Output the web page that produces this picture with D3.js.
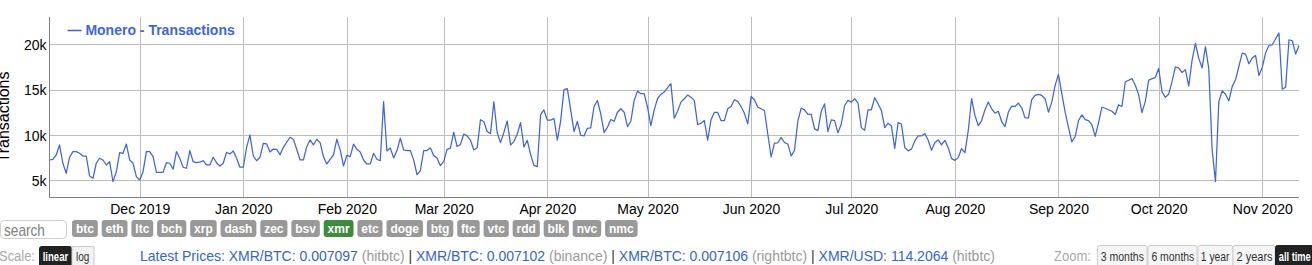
<!DOCTYPE html>
<html><head><meta charset="utf-8">
<script src="https://cdn.jsdelivr.net/npm/d3@7"></script>
<style>
html,body{margin:0;padding:0;background:#fff;overflow:hidden;width:1312px;height:265px;}
svg{display:block;font-family:"Liberation Sans",Arial,Helvetica,sans-serif;}
</style></head><body>
<svg id="c" width="1312" height="265"></svg>
<script>
// ---------- data ----------
const seriesName = "Monero - Transactions";
const yAxisTitle = "Transactions";
const startDay = "2019-11-04";
const transactions = [
7240,7320,7790,8900,6880,5770,7540,8160,8160,7980,7680,7680,5470,5220,6880,7430,7240,6690,7050,4850,
5950,8050,7980,9000,7240,6880,5400,5030,5950,8160,8160,7610,5880,5880,5880,6940,6880,6220,8160,7430,
6440,6330,8270,7050,
6940,7000,7160,6690,6690,7540,6940,6580,6880,8090,7900,8230,7430,6440,6440,8640,10000,7680,7160,7540,
9080,9010,8120,8450,8420,7830,8640,9200,9750,9530,8420,7240,7240,8710,9450,8900,9530,9150,7610,6800,
7320,7790,9530,8350,6580,7760,7610,8980,8420,8120,7240,6800,6800,7980,7320,7160,13680,8230,
8580,7470,8280,9640,8350,8280,8280,7250,5620,6070,8280,8280,8580,7720,7470,6610,7090,8420,8540,10280,
8730,8950,10100,9900,9430,8350,8580,11680,11490,10380,10150,13670,10270,9160,10270,11560,8900,9270,10080,11370,
8680,9420,7870,6650,6500,12240,12760,11640,11640,11820,9420,11560,15000,15110,12760,10380,11490,9970,9900,
10730,10780,13140,13800,12330,10290,10840,11700,11510,12510,12890,12510,10920,11510,13810,14840,14550,14550,13060,11030,
12770,14000,14470,14730,15220,15660,11840,12620,13620,14000,14400,14170,13810,11140,11290,11590,9440,11670,12480,12480,
11590,11590,12890,13140,13890,13700,13140,12400,11220,14250,13890,13060,12890,12700,
10100,7580,9100,9140,9730,9170,8990,7690,8320,11560,12950,12780,12260,12260,10670,10480,12620,13440,10370,11660,
11590,10230,11220,13250,13810,13620,14000,13510,10810,10520,12780,12780,14110,13440,12700,10810,11300,11000,8510,11370,
11190,8620,8250,8440,9340,9890,9890,10150,9410,8320,9160,9450,8900,9410,
8600,7420,7200,7500,8500,8050,10470,14000,12150,11030,11590,12780,13630,12890,12400,12620,11480,10920,12510,13180,
13140,13510,13000,11890,11890,13890,14360,14470,14360,14000,12510,13620,15470,16690,14550,12510,10840,9250,9810,11590,
12220,11700,11590,11140,9840,11370,13060,12950,12780,12620,12260,13330,13140,
15840,16040,16220,15480,14450,12460,13700,16040,16220,16330,17330,14770,14140,14520,15880,17510,17400,16880,17200,15400,
18260,20110,18450,17410,19740,17290,8360,4850,13680,14860,14490,13750,15330,16080,17550,19030,18920,17850,18480,18770,
16560,17450,19030,19870,19950,20610,21240,15050,15270,20500,20390,18920,19870
];
const yDomain = [3158, 23012];
const yTickValues = [5000, 10000, 15000, 20000];
const yTickLabels = ["5k", "10k", "15k", "20k"];
const monthTicks = ["2019-12-01","2020-01-01","2020-02-01","2020-03-01","2020-04-01","2020-05-01",
                    "2020-06-01","2020-07-01","2020-08-01","2020-09-01","2020-10-01","2020-11-01"];
const coinButtons = ["btc","eth","ltc","bch","xrp","dash","zec","bsv","xmr","etc","doge","btg","ftc","vtc","rdd","blk","nvc","nmc"];
const activeCoin = "xmr";
const scaleButtons = ["linear", "log"];
const zoomButtons = ["3 months", "6 months", "1 year", "2 years", "all time"];
const priceParts = [
  ["Latest Prices: XMR/BTC: 0.007097", "blue"], [" (hitbtc) ", "gray"], ["|", "dark"],
  [" XMR/BTC: 0.007102", "blue"], [" (binance) ", "gray"], ["|", "dark"],
  [" XMR/BTC: 0.007106", "blue"], [" (rightbtc) ", "gray"], ["|", "dark"],
  [" XMR/USD: 114.2064", "blue"], [" (hitbtc)", "gray"]
];

// ---------- styles ----------
const LINE = "#3e66d6";
const GRID = "#bdbdbd";
const AXIS = "#808080";
const partColor = {blue: "#3366cc", gray: "#999999", dark: "#333333"};

const svg = d3.select("#c");
const L = 49.5, R = 1299, T = 17, B = 197;
const parse = d3.timeParse("%Y-%m-%d");
const d0 = parse(startDay);
const data = transactions.map((v, i) => ({date: d3.timeDay.offset(d0, i), value: v}));

const x = d3.scaleTime().domain(d3.extent(data, d => d.date)).range([L, R]);
const y = d3.scaleLinear().domain(yDomain).range([B, T]);
const months = monthTicks.map(parse);

// grid
const grid = svg.append("g");
grid.selectAll("line.h").data(yTickValues).join("line")
  .attr("x1", L).attr("x2", R)
  .attr("y1", d => Math.round(y(d)) + 0.5).attr("y2", d => Math.round(y(d)) + 0.5)
  .attr("stroke", GRID).attr("stroke-width", 1);
grid.selectAll("line.v").data(months).join("line")
  .attr("x1", d => Math.round(x(d)) + 0.5).attr("x2", d => Math.round(x(d)) + 0.5)
  .attr("y1", T).attr("y2", B)
  .attr("stroke", GRID).attr("stroke-width", 1);

// clip + line
svg.append("clipPath").attr("id", "clip").append("rect")
  .attr("x", L).attr("y", T).attr("width", R - L + 2).attr("height", B - T);
svg.append("path").datum(data)
  .attr("clip-path", "url(#clip)")
  .attr("fill", "none").attr("stroke", LINE).attr("stroke-width", 1.25)
  .attr("stroke-linejoin", "round")
  .attr("d", d3.line().x(d => x(d.date)).y(d => y(d.value)));

// axes
const yAxis = svg.append("g").attr("transform", `translate(${L},0)`)
  .call(d3.axisLeft(y).tickValues(yTickValues).tickFormat((d, i) => yTickLabels[i]).tickSize(0).tickPadding(3));
yAxis.select(".domain").remove();
yAxis.selectAll("text").attr("font-size", 14).attr("font-family", "Liberation Sans, Arial, sans-serif")
  .attr("fill", "#000").attr("dy", "0.38em");

const xAxis = svg.append("g").attr("transform", `translate(0,${B})`)
  .call(d3.axisBottom(x).tickValues(months).tickFormat(d3.timeFormat("%b %Y")).tickSize(0).tickPadding(7));
xAxis.select(".domain").remove();
xAxis.selectAll("text").attr("font-size", 14).attr("font-family", "Liberation Sans, Arial, sans-serif").attr("fill", "#000");

svg.append("line").attr("x1", L).attr("x2", L).attr("y1", T).attr("y2", B + 0.5).attr("stroke", AXIS);
svg.append("line").attr("x1", L).attr("x2", R).attr("y1", B + 0.5).attr("y2", B + 0.5).attr("stroke", AXIS);

// y title
svg.append("text").attr("transform", "translate(8.5,117) rotate(-90)")
  .attr("text-anchor", "middle").attr("font-size", 16).attr("fill", "#000").text(yAxisTitle);

// legend
svg.append("text").attr("x", 67.5).attr("y", 35).attr("font-size", 14).attr("font-weight", "bold")
  .attr("fill", LINE).text("\u2014 " + seriesName);

// ---------- controls ----------
// condensed text: natural glyphs squeezed horizontally by a transform to a target width
function squeezed(parent, str, tx, ty, target, attrs) {
  const t = parent.append("text").attr("x", 0).attr("y", 0).text(str);
  Object.entries(attrs).forEach(([k, v]) => t.attr(k, v));
  const w = t.node().getComputedTextLength();
  const k = target / w;
  t.attr("transform", `translate(${tx},${ty}) scale(${k},1)`);
  return target;
}

// search box
svg.append("rect").attr("x", 0.5).attr("y", 220.5).attr("width", 66).attr("height", 18).attr("rx", 4)
  .attr("fill", "#fff").attr("stroke", "#cccccc");
squeezed(svg, "search", 4, 235.5, 41, {"font-size": 16, "fill": "#808080"});

// coin buttons
let bx = 72;
const cg = svg.append("g");
coinButtons.forEach(c => {
  const g = cg.append("g");
  const probe = g.append("text").attr("font-size", 13.5).attr("font-weight", "bold").text(c);
  const tw = probe.node().getComputedTextLength() * 0.889;
  probe.remove();
  const bw = tw + 7.8;
  g.append("rect").attr("x", bx).attr("y", 220).attr("width", bw).attr("height", 17).attr("rx", 3)
    .attr("fill", c === activeCoin ? "#3d8b3d" : "#999999");
  squeezed(g, c, bx + 3.9, 233.3, tw, {"font-size": 13.5, "font-weight": "bold", "fill": "#fff"});
  bx += bw + 3.9;
});

// scale row
squeezed(svg, "Scale:", -1, 261, 36, {"font-size": 15, "fill": "#aaaaaa"});
svg.append("rect").attr("x", 39).attr("y", 246).attr("width", 33).attr("height", 22).attr("rx", 3).attr("fill", "#222");
svg.append("rect").attr("x", 72).attr("y", 246.5).attr("width", 22).attr("height", 22).attr("fill", "#f2f2f2").attr("stroke", "#cccccc");
squeezed(svg, scaleButtons[0], 42.7, 260.5, 25.6, {"font-size": 13, "font-weight": "bold", "fill": "#fff"});
squeezed(svg, scaleButtons[1], 76, 260.5, 13.3, {"font-size": 13, "fill": "#333"});

// latest prices
const pt = svg.append("text").attr("x", 140).attr("y", 261).attr("font-size", 14).style("white-space", "pre");
priceParts.forEach(p => pt.append("tspan").attr("fill", partColor[p[1]]).text(p[0]));

// zoom row
squeezed(svg, "Zoom:", 1054, 261, 37, {"font-size": 15, "fill": "#aaaaaa"});
const zoomBoxes = [[1097.5, 49.5, 1100.7, 43.3], [1148, 49, 1151.4, 43], [1198, 35, 1200.8, 28.6], [1233, 42, 1236.6, 36], [1275.5, 40, 1278.8, 32]];
zoomButtons.forEach((z, i) => {
  const [zx, zw, tx, tl] = zoomBoxes[i];
  const active = i === zoomButtons.length - 1;
  svg.append("rect").attr("x", zx).attr("y", 245.5).attr("width", zw).attr("height", 22).attr("rx", 2)
    .attr("fill", active ? "#222" : "#f5f5f5").attr("stroke", active ? "#222" : "#cccccc");
  squeezed(svg, z, tx, 260.5, tl, {"font-size": 13, "font-weight": active ? "bold" : "normal", "fill": active ? "#fff" : "#333"});
});
</script>
</body></html>
